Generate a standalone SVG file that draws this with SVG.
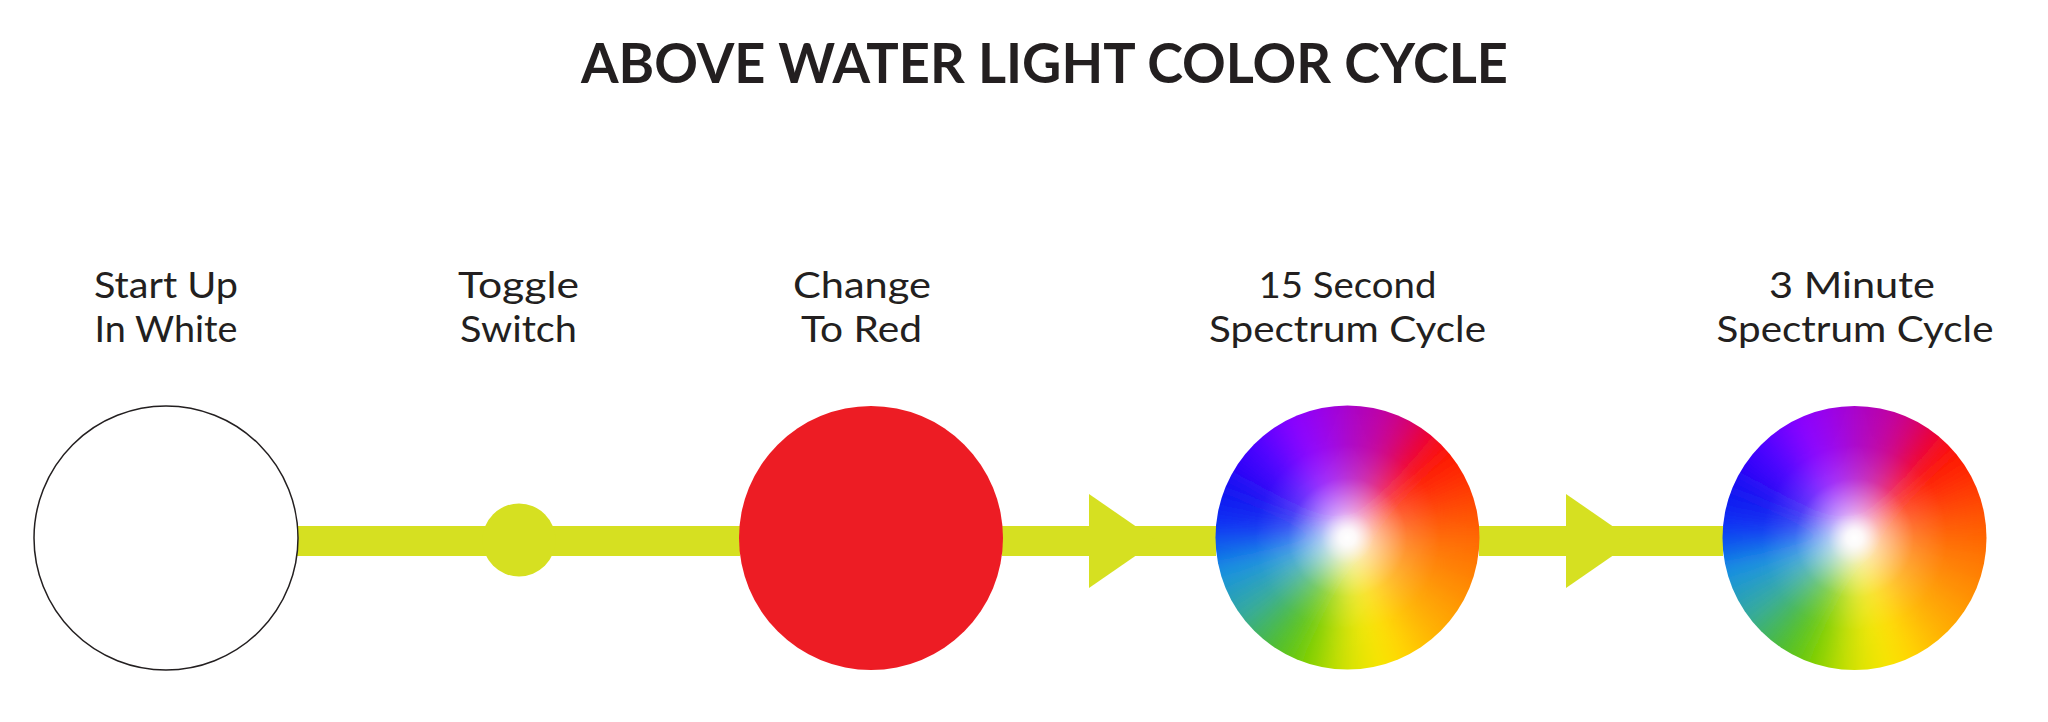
<svg xmlns="http://www.w3.org/2000/svg" width="2048" height="722" viewBox="0 0 2048 722">
<style>
.title{font-family:Lato,"Open Sans","Liberation Sans",sans-serif;font-size:56px;font-weight:700;fill:#231f20;text-anchor:middle}
.lbl{font-family:Lato,"Open Sans","Liberation Sans",sans-serif;font-size:36.5px;font-weight:400;fill:#231f20;text-anchor:middle}
.bar{stroke:#d6e021;stroke-width:30;fill:none}
.head{fill:#d6e021}
</style>
<defs>
<filter id="soft" x="-30%" y="-30%" width="160%" height="160%"><feGaussianBlur stdDeviation="10"/></filter>
<clipPath id="disc"><circle cx="0" cy="0" r="132"/></clipPath>
<radialGradient id="glow" cx="0" cy="0" r="132" gradientUnits="userSpaceOnUse">
<stop offset="0" stop-color="#fff" stop-opacity="1"/>
<stop offset="0.06" stop-color="#fff" stop-opacity="0.95"/>
<stop offset="0.2" stop-color="#fff" stop-opacity="0.6"/>
<stop offset="0.45" stop-color="#fff" stop-opacity="0.18"/>
<stop offset="0.7" stop-color="#fff" stop-opacity="0.03"/>
<stop offset="1" stop-color="#fff" stop-opacity="0"/>
</radialGradient>
<g id="wheel">
<g clip-path="url(#disc)">
<g filter="url(#soft)">
<path d="M0 0L0 -170L29.52 -167.42Z" fill="#af00bc"/>
<path d="M0 0L29.52 -167.42L58.14 -159.75Z" fill="#bd00a5"/>
<path d="M0 0L58.14 -159.75L85 -147.22Z" fill="#cf007b"/>
<path d="M0 0L85 -147.22L109.27 -130.23Z" fill="#e4003c"/>
<path d="M0 0L109.27 -130.23L130.23 -109.27Z" fill="#f9080e"/>
<path d="M0 0L130.23 -109.27L147.22 -85Z" fill="#ff1a00"/>
<path d="M0 0L147.22 -85L159.75 -58.14Z" fill="#ff3100"/>
<path d="M0 0L159.75 -58.14L167.42 -29.52Z" fill="#ff4600"/>
<path d="M0 0L167.42 -29.52L170 0Z" fill="#ff5c00"/>
<path d="M0 0L170 0L167.42 29.52Z" fill="#ff6e00"/>
<path d="M0 0L167.42 29.52L159.75 58.14Z" fill="#ff7d00"/>
<path d="M0 0L159.75 58.14L147.22 85Z" fill="#ff8c00"/>
<path d="M0 0L147.22 85L130.23 109.27Z" fill="#ff9c00"/>
<path d="M0 0L130.23 109.27L109.27 130.23Z" fill="#ffac00"/>
<path d="M0 0L109.27 130.23L85 147.22Z" fill="#ffbf00"/>
<path d="M0 0L85 147.22L58.14 159.75Z" fill="#ffd500"/>
<path d="M0 0L58.14 159.75L29.52 167.42Z" fill="#f8e400"/>
<path d="M0 0L29.52 167.42L0 170Z" fill="#e3e400"/>
<path d="M0 0L0 170L-29.52 167.42Z" fill="#bede00"/>
<path d="M0 0L-29.52 167.42L-58.14 159.75Z" fill="#8ad200"/>
<path d="M0 0L-58.14 159.75L-85 147.22Z" fill="#64c710"/>
<path d="M0 0L-85 147.22L-109.27 130.23Z" fill="#4cbc30"/>
<path d="M0 0L-109.27 130.23L-130.23 109.27Z" fill="#3eb268"/>
<path d="M0 0L-130.23 109.27L-147.22 85Z" fill="#30a8a0"/>
<path d="M0 0L-147.22 85L-159.75 58.14Z" fill="#249cc0"/>
<path d="M0 0L-159.75 58.14L-167.42 29.52Z" fill="#1890e0"/>
<path d="M0 0L-167.42 29.52L-170 0Z" fill="#1160ea"/>
<path d="M0 0L-170 0L-167.42 -29.52Z" fill="#0a30f4"/>
<path d="M0 0L-167.42 -29.52L-159.75 -58.14Z" fill="#0a1bf1"/>
<path d="M0 0L-159.75 -58.14L-147.22 -85Z" fill="#170df3"/>
<path d="M0 0L-147.22 -85L-130.23 -109.27Z" fill="#3006f9"/>
<path d="M0 0L-130.23 -109.27L-109.27 -130.23Z" fill="#4a00ff"/>
<path d="M0 0L-109.27 -130.23L-85 -147.22Z" fill="#6900ff"/>
<path d="M0 0L-85 -147.22L-58.14 -159.75Z" fill="#8800ff"/>
<path d="M0 0L-58.14 -159.75L-29.52 -167.42Z" fill="#9400f0"/>
<path d="M0 0L-29.52 -167.42L0 -170Z" fill="#a100d8"/>
</g>
<circle cx="0" cy="0" r="132" fill="url(#glow)"/>
</g>
</g>
</defs>
<rect width="2048" height="722" fill="#ffffff"/>
<text class="title" x="1044.5" y="83" textLength="927" lengthAdjust="spacingAndGlyphs">ABOVE WATER LIGHT COLOR CYCLE</text>
<g id="connectors">
<line class="bar" x1="297" y1="541" x2="740" y2="541"/>
<line class="bar" x1="1002" y1="541" x2="1216" y2="541"/>
<polygon class="head" points="1089,494 1157,541 1089,588"/>
<line class="bar" x1="1479" y1="541" x2="1723" y2="541"/>
<polygon class="head" points="1566,494 1634,541 1566,588"/>
</g>
<g id="node-start">
<circle cx="166" cy="538" r="132" fill="#ffffff" stroke="#231f20" stroke-width="1.5"/>
<text class="lbl" x="166" y="298" textLength="144" lengthAdjust="spacingAndGlyphs">Start Up</text>
<text class="lbl" x="166" y="342" textLength="143" lengthAdjust="spacingAndGlyphs">In White</text>
</g>
<g id="node-toggle">
<circle cx="519" cy="540" r="36.5" fill="#d6e021"/>
<text class="lbl" x="518.5" y="298" textLength="121" lengthAdjust="spacingAndGlyphs">Toggle</text>
<text class="lbl" x="518.5" y="342" textLength="117" lengthAdjust="spacingAndGlyphs">Switch</text>
</g>
<g id="node-red">
<circle cx="871" cy="538" r="132" fill="#ed1c24"/>
<text class="lbl" x="862" y="298" textLength="138" lengthAdjust="spacingAndGlyphs">Change</text>
<text class="lbl" x="861.5" y="342" textLength="121" lengthAdjust="spacingAndGlyphs">To Red</text>
</g>
<g id="node-15s">
<use href="#wheel" transform="translate(1347.5,537.5)"/>
<text class="lbl" x="1347.5" y="298" textLength="178" lengthAdjust="spacingAndGlyphs">15 Second</text>
<text class="lbl" x="1347.5" y="342" textLength="277" lengthAdjust="spacingAndGlyphs">Spectrum Cycle</text>
</g>
<g id="node-3m">
<use href="#wheel" transform="translate(1854.5,538)"/>
<text class="lbl" x="1852" y="298" textLength="166" lengthAdjust="spacingAndGlyphs">3 Minute</text>
<text class="lbl" x="1855" y="342" textLength="277" lengthAdjust="spacingAndGlyphs">Spectrum Cycle</text>
</g>
</svg>
